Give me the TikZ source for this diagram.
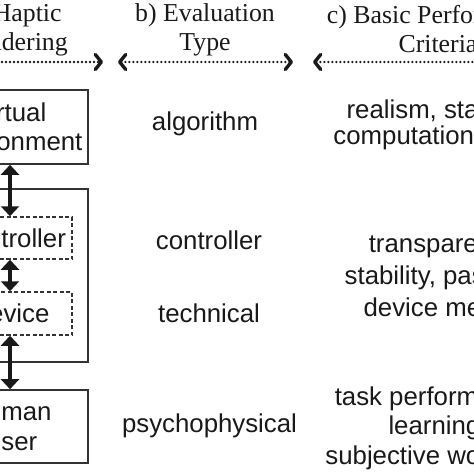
\documentclass[tikz,border=0pt]{standalone}
\usepackage{fontspec}
\setmainfont{Liberation Serif}
\setsansfont{Liberation Sans}
\usetikzlibrary{arrows.meta}

\tikzset{barb/.tip={Straight Barb[length=6pt,width=15pt,line width=3.4pt,round]}}

\begin{document}
\begin{tikzpicture}
[x=1pt,y=-1pt,every node/.style={inner sep=0pt,text=black!90,font=\sffamily\fontsize{25.8}{29}\selectfont},
 box/.style={draw=black!80,line width=1.6pt,minimum width=156pt,minimum height=74pt,align=center},
 subbox/.style={draw=black!80,line width=1.5pt,dash pattern=on 4pt off 2.5pt,minimum width=124pt,minimum height=42pt},
 head/.style={font=\rmfamily\fontsize{25.8}{29}\selectfont,align=center},
 crit/.style={align=center},
 link/.style={line width=4pt,draw=black!90,{Triangle[length=10pt,width=18pt]}-{Triangle[length=10pt,width=18pt]}},
 span/.style={line width=2.6pt,line cap=round,dash pattern=on 0pt off 4pt,draw=black!90}]

  \useasboundingbox (0,0) rectangle (474,474);
  \clip (0,0) rectangle (474,474);

  % column heads
  \node (heada) at (14,29.5) [head] {a) Haptic\\Rendering};
  \node (headb) at (205,29.5) [head] {b) Evaluation\\Type};
  \node (headc) at (438,29.5) [head] {c) Basic Performance\\Criteria};

  \coordinate (a0) at (-10,62);
  \coordinate (a1) at (103,62);
  \coordinate (b0) at (118,62);
  \coordinate (b1) at (293,62);
  \coordinate (c0) at (313,62);
  \coordinate (c1) at (490,62);
  \draw[span,-barb] (a0) -- (a1);
  \draw[span,barb-barb] (b0) -- (b1);
  \draw[span,barb-] (c0) -- (c1);

  % a) rendering chain
  \node (venv) at (10,127) [box] {Virtual\\Environment};
  \node (hapsys) at (10,275.5) [box,minimum height=173pt] {};
  \node (ctrl) at (10,238) [subbox] {Controller};
  \node (dev) at (10,313.5) [subbox,minimum height=43pt] {Device};
  \node (human) at (10,426.5) [box,minimum height=73pt,font=\sffamily\fontsize{25.8}{30}\selectfont] {Human\\User};

  \foreach \from/\to in {venv/ctrl, ctrl/dev, dev/human}
    \draw[link] (\from.south) -- (\to.north);

  % b) evaluation type
  \node (algo) at (205,130) [anchor=base] {algorithm};
  \node (contr) at (209,249) [anchor=base] {controller};
  \node (tech) at (209,322) [anchor=base] {technical};
  \node (psy) at (209.5,432) [anchor=base] {psychophysical};

  % c) criteria
  \node (crita) at (441,125) [crit,font=\sffamily\fontsize{25.8}{26}\selectfont] {realism, stability,\\computational cost};
  \node (critb) at (446,276) [crit,font=\sffamily\fontsize{25.8}{32}\selectfont] {transparency,\\stability, passivity,\\device metrics};
  \node (critc) at (438,428) [crit,font=\sffamily\fontsize{25.8}{29.5}\selectfont] {task performance,\\learning,\\subjective workload};

\end{tikzpicture}
\end{document}
